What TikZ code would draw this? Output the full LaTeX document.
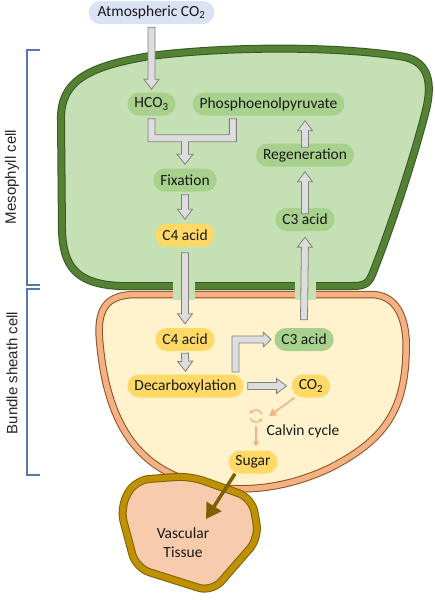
\documentclass[tikz,border=0pt]{standalone}
\usepackage{fontspec}
\setmainfont{Carlito}
\newfontfamily\sidefont{Liberation Sans}
\usepackage{tikz}
\definecolor{mesofill}{RGB}{197, 224, 180}
\definecolor{mesoband}{RGB}{84, 130, 53}
\definecolor{mesoedge}{RGB}{56, 87, 35}
\definecolor{sheathfill}{RGB}{255, 242, 204}
\definecolor{sheathband}{RGB}{244, 177, 131}
\definecolor{sheathedge}{RGB}{140, 80, 35}
\definecolor{vascfill}{RGB}{248, 203, 173}
\definecolor{vascband}{RGB}{191, 144, 0}
\definecolor{vascedge}{RGB}{127, 96, 0}
\definecolor{leafgreen}{RGB}{169, 209, 142}
\definecolor{acidyellow}{RGB}{255, 217, 102}
\definecolor{airblue}{RGB}{218, 227, 243}
\definecolor{arrowfill}{RGB}{221, 221, 221}
\definecolor{arrowedge}{RGB}{128, 128, 128}
\definecolor{salmon}{RGB}{244, 177, 131}
\definecolor{bracketblue}{RGB}{84, 120, 170}
\usetikzlibrary{arrows.meta, calc}

% grey block arrow between two points
\newcommand{\blockarrow}[2]{%
  \path[blockarrow] let \p1=(#1), \p2=(#2), \n1={atan2(\y2-\y1,\x2-\x1)} in
    ($(\p1)+(\n1+90:3.5pt)$) -- ($(\p2)+(\n1:-10pt)+(\n1+90:3.5pt)$)
    -- ($(\p2)+(\n1:-10pt)+(\n1+90:7.5pt)$) -- (\p2)
    -- ($(\p2)+(\n1:-10pt)+(\n1-90:7.5pt)$) -- ($(\p2)+(\n1:-10pt)+(\n1-90:3.5pt)$)
    -- ($(\p1)+(\n1-90:3.5pt)$) -- cycle;}

\begin{document}
\begin{tikzpicture}[x=1pt, y=1pt,
    molbox/.style={rounded corners=11.5pt, minimum height=23pt, inner xsep=7pt, inner ysep=0pt,
                   font=\fontsize{15.5pt}{17pt}\selectfont, text=black!90},
    greenbox/.style={molbox, fill=leafgreen},
    yellowbox/.style={molbox, fill=acidyellow},
    blockarrow/.style={draw=arrowedge, fill=arrowfill, line width=0.8pt, line join=miter},
    cycline/.style={draw=salmon, line width=1.3pt},
    sidelabel/.style={rotate=90, font=\sidefont\fontsize{15pt}{17pt}\selectfont, text=black!85},
    bracket/.style={draw=bracketblue, line width=1.2pt}
]
    \useasboundingbox (0,0) rectangle (434,-600);
    \fill[white] (0,0) rectangle (434,-600);

    % Cells
    \draw[line width=1pt, draw=sheathedge, double=sheathband, double distance=5.5pt, fill=sheathfill]
        (100,-345) .. controls (96,-310) and (105,-295) .. (135,-294.5) -- (370,-294.5)
        .. controls (398,-294) and (408,-320) .. (406,-355)
        .. controls (404,-410) and (385,-440) .. (330,-468)
        .. controls (290,-487) and (250,-492) .. (215,-487)
        .. controls (160,-478) and (110,-450) .. (100,-345) -- cycle;
    \draw[line width=1pt, draw=mesoedge, double=mesoband, double distance=6pt, fill=mesofill]
        (62,-230) -- (61,-120) .. controls (60,-80) and (90,-66) .. (150,-56)
        .. controls (230,-46) and (340,-46) .. (405,-57)
        .. controls (430,-63) and (432,-85) .. (426,-110)
        .. controls (412,-165) and (388,-235) .. (372,-275)
        .. controls (368,-285) and (362,-286) .. (352,-286)
        -- (120,-286) .. controls (75,-284) and (63,-265) .. (62,-230) -- cycle;
    \fill[mesofill] (173,-268) rectangle (195,-300);
    \fill[mesofill] (295,-268) rectangle (316,-300);
    \draw[line width=1pt, draw=vascedge, double=vascband, double distance=6pt, fill=vascfill, rounded corners=14pt]
        (135,-480) -- (190,-476) -- (252,-498) -- (259,-538) -- (212,-592) -- (136,-568) -- (120,-508) -- cycle;

    % Brackets and side labels
    \draw[bracket] (40,-50) -- (27,-50) -- (27,-285) -- (40,-285);
    \draw[bracket] (40,-289) -- (27,-289) -- (27,-475) -- (40,-475);
    \node[sidelabel] (meslab) at (12,-177) {Mesophyll cell};
    \node[sidelabel] (bunlab) at (12,-373) {Bundle sheath cell};

    % Molecules and steps
    \node[molbox, fill=airblue, inner xsep=9pt] (atm) at (151.5,-12.5) {Atmospheric CO\textsubscript{2}};
    \node[greenbox] (hco) at (151.5,-104) {HCO\textsubscript{3}};
    \node[greenbox] (pep) at (268.5,-104) {Phosphoenolpyruvate};
    \node[greenbox] (fix) at (185,-180) {Fixation};
    \node[yellowbox] (c4m) at (185,-235) {C4 acid};
    \node[greenbox] (regen) at (305,-155) {Regeneration};
    \node[greenbox] (c3m) at (305,-219.5) {C3 acid};
    \node[yellowbox] (c4b) at (185,-339.5) {C4 acid};
    \node[greenbox] (c3b) at (304,-339.5) {C3 acid};
    \node[yellowbox] (decarb) at (185.5,-386) {Decarboxylation};
    \node[yellowbox] (co) at (311,-386) {CO\textsubscript{2}};
    \node[circle, minimum size=12pt, inner sep=0pt] (calv) at (256,-416) {};
    \node[font=\fontsize{15.5pt}{17pt}\selectfont, text=black!90] (calvlab) at (303,-431) {Calvin cycle};
    \node[yellowbox] (sugar) at (253,-462) {Sugar};
    \node[font=\fontsize{15.5pt}{19pt}\selectfont, text=black!90, align=center] (vasc) at (183,-543) {Vascular\\Tissue};
    \coordinate (vtip) at (206,-519);

    % Arrows
    \blockarrow{$(atm.south)+(0,-3)$}{$(hco.north)+(0,3)$}
    \path[blockarrow] let \p1=($(hco.south)+(0,-3)$), \p2=($(pep.south west)+(40.5,-3)$), \p3=($(fix.north)+(0,4)$) in
        (\x1-3.5pt,\y1) -- (\x1-3.5pt,\y1-23pt) -- (\x3-3.5pt,\y1-23pt) -- (\x3-3.5pt,\y3+10pt)
        -- (\x3-8pt,\y3+10pt) -- (\p3) -- (\x3+8pt,\y3+10pt) -- (\x3+3.5pt,\y3+10pt)
        -- (\x3+3.5pt,\y1-23pt) -- (\x2+3.5pt,\y1-23pt) -- (\x2+3.5pt,\y1) -- (\x2-3.5pt,\y1)
        -- (\x2-3.5pt,\y1-16pt) -- (\x1+3.5pt,\y1-16pt) -- (\x1+3.5pt,\y1) -- cycle;
    \blockarrow{$(fix.south)+(0,-3)$}{$(c4m.north)+(0,4)$}
    \blockarrow{$(c4m.south)+(0,-6)$}{$(c4b.north)+(0,4)$}
    \blockarrow{$(c3b.north)+(0,8)$}{$(c3m.south)+(0,-6)$}
    \blockarrow{$(c3m.north)+(0,-6)$}{$(regen.south)+(0,-5)$}
    \blockarrow{$(regen.north)+(0,-4)$}{$(regen.north |- pep.south)+(0,-5)$}
    \blockarrow{$(c4b.south)+(0,-2)$}{$(decarb.north)+(0,3)$}
    \blockarrow{$(decarb.east)+(4,0)$}{$(co.west)+(-5,0)$}
    \coordinate (ebase) at (235.5,-372);
    \path[blockarrow] (ebase) ++(-3.5,0) |- ($(c3b.west)+(-11,3.5)$) -- ++(0,4)
        -- ($(c3b.west)+(-3,0)$) -- ($(c3b.west)+(-11,-7.5)$) -- ++(0,4)
        -| ($(ebase)+(3.5,0)$) -- cycle;

    % Calvin cycle
    \draw[cycline, -{Triangle[width=4pt,length=3pt]}] (calv.20) arc[start angle=20, end angle=160, radius=6pt];
    \draw[cycline, -{Triangle[width=4pt,length=3pt]}] (calv.200) arc[start angle=200, end angle=340, radius=6pt];
    \draw[cycline, line width=1.6pt, -{Triangle[width=8pt,length=7pt]}] ($(co.south west)+(3,0)$) -- ($(calv.east)+(7,0)$);
    \draw[cycline, -{Triangle[width=6pt,length=5pt]}] ($(calv.south)+(0,-4)$) -- ($(calv.south |- sugar.north)+(0,4)$);
    \draw[draw=vascedge, line width=3.5pt, -{Triangle[width=17pt,length=15pt]}] ($(sugar.south)+(-18,0)$) -- (vtip);
\end{tikzpicture}
\end{document}
